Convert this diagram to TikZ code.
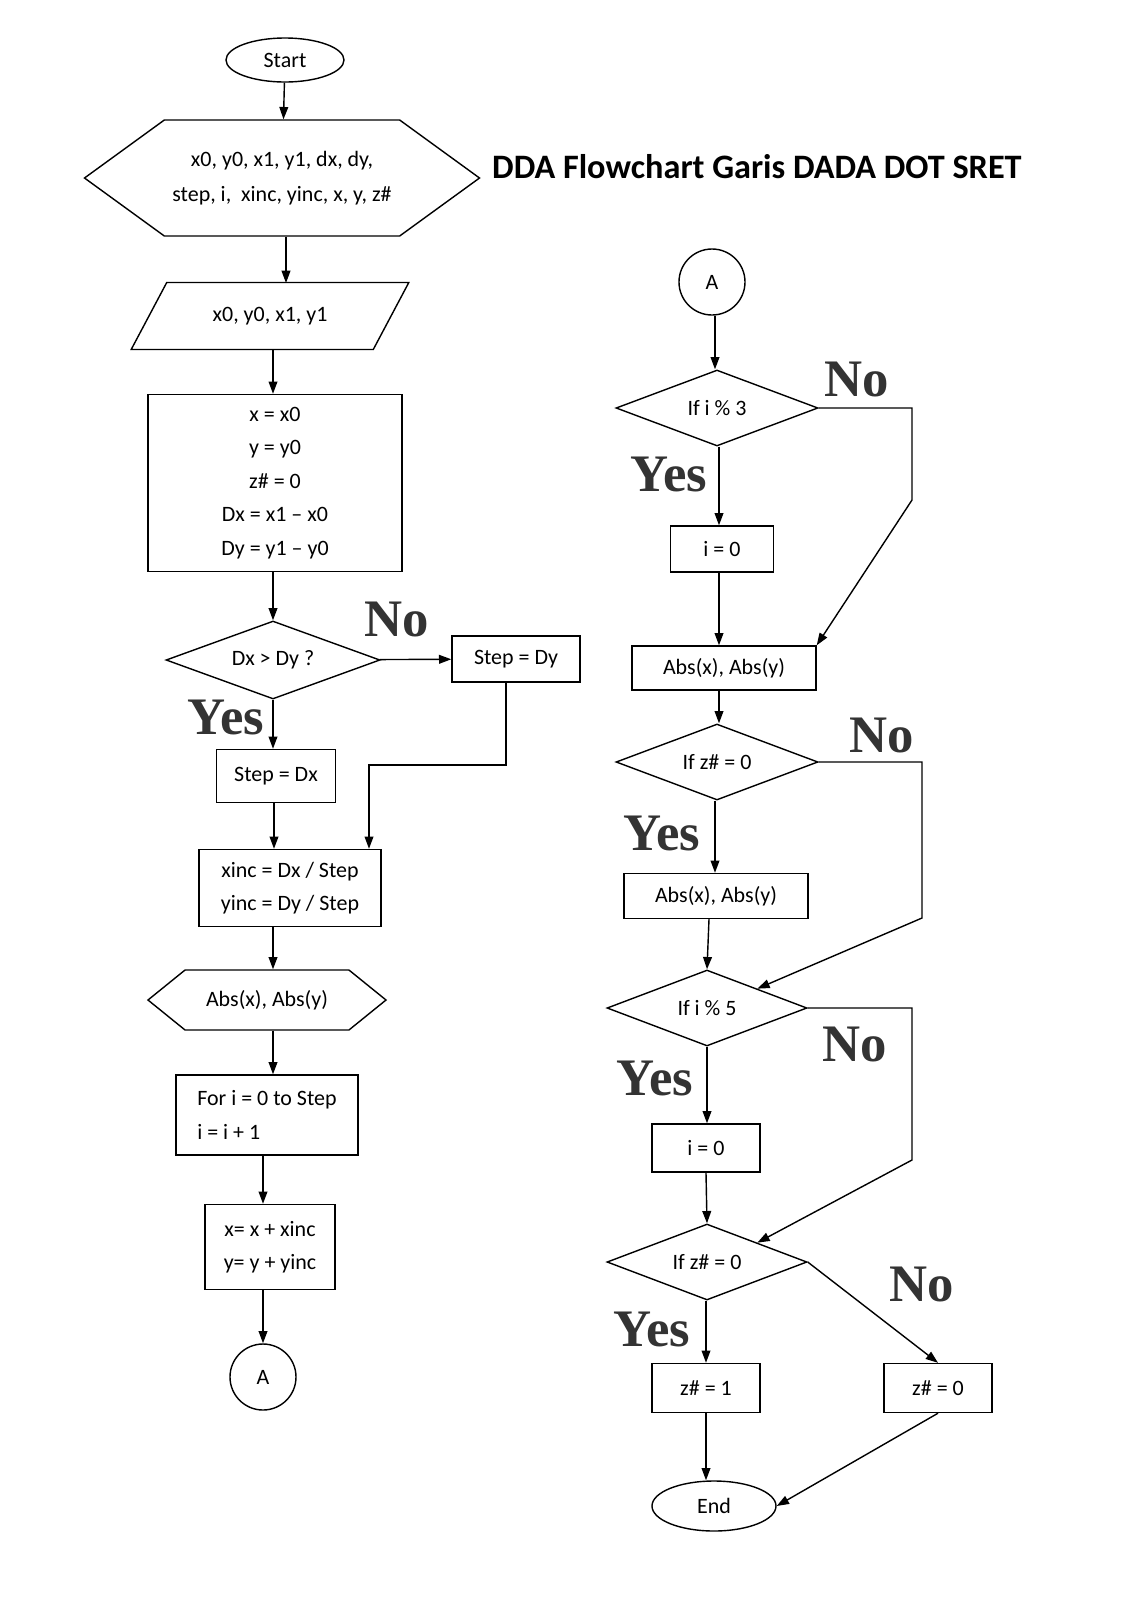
\documentclass[tikz,border=0pt]{standalone}
\usepackage{fontspec}
\setmainfont{Carlito}
\newfontfamily\wart{Liberation Serif}
\usetikzlibrary{shapes.geometric,shapes.symbols,arrows.meta}
\begin{document}
\begin{tikzpicture}[x=0.02cm,y=-0.02cm,
  every node/.style={font=\fontsize{12.5}{16}\selectfont, align=center, inner sep=0pt},
  box/.style={draw, rectangle},
  dia/.style={draw, diamond, aspect=2.6},
  hexa/.style={draw, signal, signal to=east and west},
  arr/.style={-{Triangle[length=7pt,width=5pt]}, line width=0.8pt},
  wa/.style={font=\wart\bfseries\fontsize{30}{30}\selectfont, text=black!80},
  line width=0.8pt]
\useasboundingbox (0,0) rectangle (1131,1600);
% left column
\node[draw, ellipse, minimum width=118*0.02cm, minimum height=44*0.02cm] (start) at (285,60) {Start};
\node[hexa, signal pointer angle=72, minimum width=395*0.02cm, minimum height=116*0.02cm] (decl) at (282,178) {x0, y0, x1, y1, dx, dy,\\[4pt] step, i,\ \ xinc, yinc, x, y, z\#};
\node[draw, trapezium, trapezium left angle=42, trapezium right angle=138, trapezium stretches=true, minimum width=280*0.02cm, minimum height=67*0.02cm] (inp) at (270,316) {x0, y0, x1, y1};
\node[box, minimum width=254*0.02cm, minimum height=177*0.02cm] (init) at (275,483) {x = x0\\[3pt] y = y0\\[3pt] z\# = 0\\[3pt] Dx = x1 -- x0\\[3pt] Dy = y1 -- y0};
\node[dia, minimum width=214*0.02cm, minimum height=78*0.02cm] (cmp) at (273,660) {Dx > Dy ?};
\node[box, minimum width=128*0.02cm, minimum height=46*0.02cm] (sdy) at (516,659) {Step = Dy};
\node[box, minimum width=119*0.02cm, minimum height=53*0.02cm] (sdx) at (276,776) {Step = Dx};
\node[box, minimum width=182*0.02cm, minimum height=77*0.02cm] (inc) at (290,888) {xinc = Dx / Step\\[3pt] yinc = Dy / Step};
\node[hexa, signal pointer angle=78, minimum width=238*0.02cm, minimum height=60*0.02cm] (abs1) at (267,1000) {Abs(x), Abs(y)};
\node[box, minimum width=182*0.02cm, minimum height=80*0.02cm, align=left] (for) at (267,1115) {For i = 0 to Step\\[3pt] i = i + 1};
\node[box, minimum width=130*0.02cm, minimum height=85*0.02cm] (upd) at (270,1247) {x= x + xinc\\[3pt] y= y + yinc};
\node[draw, circle, minimum size=66*0.02cm] (a1) at (263,1377) {A};
\node[font=\bfseries\fontsize{19.5}{22}\selectfont] (title) at (757,167) {DDA Flowchart Garis DADA DOT SRET};
\draw[arr] (start) -- (decl);
\draw[arr] (decl.south -| 286,0) -- (286,283);
\draw[arr] (273,350) -- (init.north -| 273,0);
\draw[arr] (init.south -| cmp) -- (cmp);
\draw[arr] (cmp) -- (sdy);
\draw[arr] (cmp) -- (sdx.north -| cmp);
\draw[arr] (sdy.south -| 506,0) -- (506,765) -- (369,765) -- (inc.north -| 369,0);
\draw[arr] (sdx.south -| 274,0) -- (inc.north -| 274,0);
\draw[arr] (inc.south -| 273,0) -- (abs1.north -| 273,0);
\draw[arr] (abs1.south -| 273,0) -- (for.north -| 273,0);
\draw[arr] (for.south -| 263,0) -- (upd.north -| 263,0);
\draw[arr] (upd.south -| 263,0) -- (a1);
\node[wa] (no1) at (397,619) {No};
\node[wa] (yes1) at (226,717) {Yes};
% right column
\node[draw, circle, minimum size=66*0.02cm] (a2) at (712,282) {A};
\node[dia, minimum width=202*0.02cm, minimum height=76*0.02cm] (d1) at (717,408) {If i \% 3};
\node[box, minimum width=103*0.02cm, minimum height=46*0.02cm] (i1) at (722,549) {i = 0};
\node[box, minimum width=184*0.02cm, minimum height=44*0.02cm] (abs2) at (724,668) {Abs(x), Abs(y)};
\node[dia, minimum width=202*0.02cm, minimum height=76*0.02cm] (d2) at (717,762) {If z\# = 0};
\node[box, minimum width=184*0.02cm, minimum height=45*0.02cm] (abs3) at (716,896) {Abs(x), Abs(y)};
\node[dia, minimum width=200*0.02cm, minimum height=76*0.02cm] (d3) at (707,1008) {If i \% 5};
\node[box, minimum width=108*0.02cm, minimum height=48*0.02cm] (i2) at (706,1148) {i = 0};
\node[dia, minimum width=200*0.02cm, minimum height=76*0.02cm] (d4) at (707,1262) {If z\# = 0};
\node[box, minimum width=108*0.02cm, minimum height=49*0.02cm] (z1) at (706,1388) {z\# = 1};
\node[box, minimum width=108*0.02cm, minimum height=49*0.02cm] (z0) at (938,1388) {z\# = 0};
\node[draw, ellipse, minimum width=124*0.02cm, minimum height=50*0.02cm] (end) at (714,1506) {End};
\coordinate (c1) at (912,500);
\coordinate (c2) at (922,918);
\coordinate (c3) at (912,1160);
\draw[arr] (a2.south -| 715,0) -- (d1.north -| 715,0);
\draw[arr] (d1.east) -- (d1.east -| c1) -- (c1) -- (abs2.north east);
\draw[arr] (d1.south -| 719,0) -- (i1.north -| 719,0);
\draw[arr] (i1.south -| 719,0) -- (abs2.north -| 719,0);
\draw[arr] (abs2.south -| 719,0) -- (d2.north -| 719,0);
\draw[arr] (d2.east) -- (d2.east -| c2) -- (c2) -- (d3.north east);
\draw[arr] (d2.south -| 715,0) -- (abs3.north -| 715,0);
\draw[arr] (abs3.south -| 709,0) -- (d3.north);
\draw[arr] (d3.east) -- (d3.east -| c3) -- (c3) -- (d4.north east);
\draw[arr] (d3.south -| 707,0) -- (i2.north -| 707,0);
\draw[arr] (i2.south -| 706,0) -- (d4.north);
\draw[arr] (d4.east) -- (z0.north);
\draw[arr] (d4.south -| 706,0) -- (z1.north -| 706,0);
\draw[arr] (z1.south -| 706,0) -- (end.north -| 706,0);
\draw[arr] (z0.south) -- (end.east);
\node[wa] (no2) at (857,379) {No};
\node[wa] (yes2) at (669,474) {Yes};
\node[wa] (no3) at (882,735) {No};
\node[wa] (yes3) at (662,833) {Yes};
\node[wa] (no4) at (855,1044) {No};
\node[wa] (yes4) at (655,1078) {Yes};
\node[wa] (no5) at (922,1284) {No};
\node[wa] (yes5) at (652,1329) {Yes};
\end{tikzpicture}
\end{document}
